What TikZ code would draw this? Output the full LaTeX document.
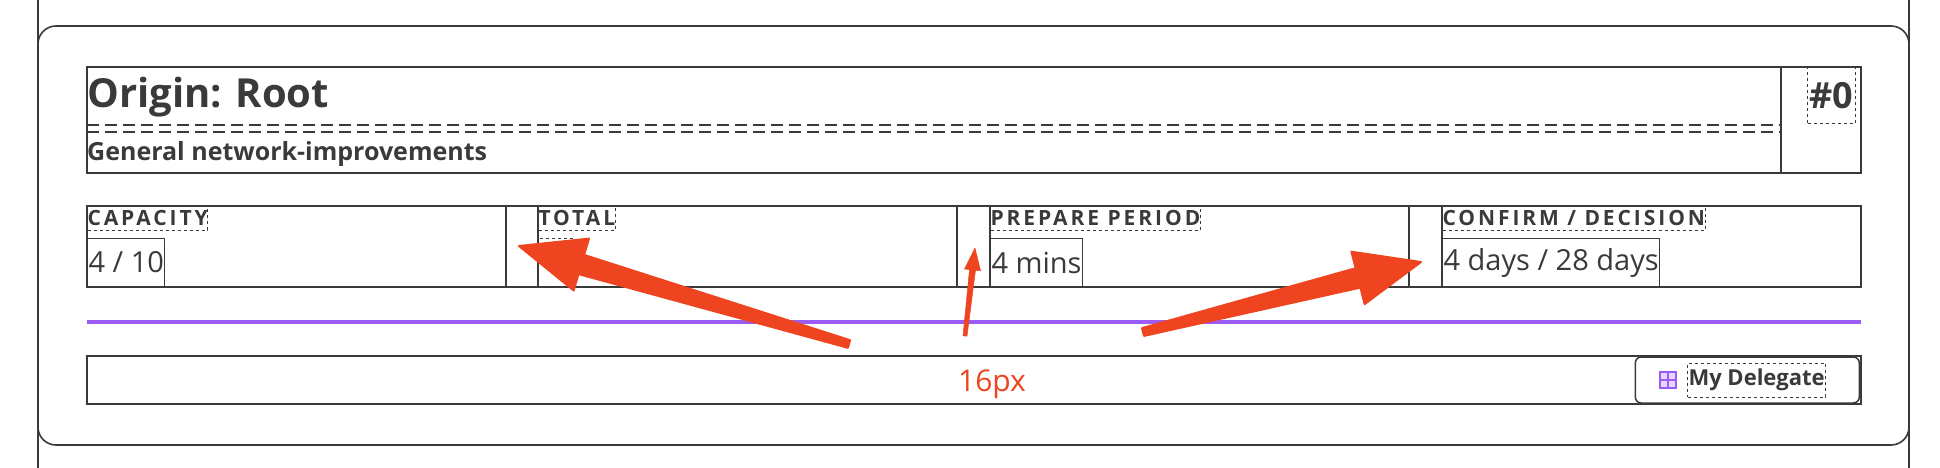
\documentclass[tikz,border=0pt]{standalone}
\usepackage{fontspec}
\setmainfont{Open Sans}
\definecolor{ink}{HTML}{3A3A3A}
\definecolor{violet}{HTML}{9B5CF6}
\definecolor{annot}{HTML}{EE4420}
\tikzset{
  box/.style={draw=ink, line width=1.6pt},
  lbl/.style={anchor=west, inner sep=0pt, text=ink, font=\fontsize{21}{21}\selectfont\bfseries\addfontfeatures{LetterSpace=14}, draw=ink, dashed, line width=1pt, minimum height=24pt},
  val/.style={anchor=south west, inner sep=1pt, text=ink, font=\fontsize{29}{29}\selectfont, draw=ink, line width=1pt, minimum height=48pt},
  wedge/.style={fill=annot, draw=annot, line join=round, line width=2pt}
}
\begin{document}
\begin{tikzpicture}[x=1pt,y=-1pt]
\useasboundingbox (0,0) rectangle (1940,468);
\draw[ink, line width=1.2pt] (38,0) -- (38,468);
\draw[ink, line width=1.2pt] (1909,0) -- (1909,468);
\draw[box] (38,26) [rounded corners=18pt] rectangle (1909,445);
\draw[box] (87,67) rectangle (1861,173);
\draw[ink, line width=1.2pt] (1781,67) -- (1781,173);
\node[anchor=west, inner sep=0pt, text=ink, font=\fontsize{40}{40}\selectfont\bfseries] (title) at (87,97) {Origin: Root};
\draw[ink, line width=1.5pt, dash pattern=on 12pt off 6pt] (87,125) -- (1781,125);
\draw[ink, line width=1.5pt, dash pattern=on 12pt off 6pt] (87,132) -- (1781,132);
\node[anchor=west, inner sep=0pt, text=ink, font=\fontsize{25}{25}\selectfont\bfseries] (sub) at (87,154) {General network-improvements};
\node[anchor=north west, inner sep=2pt, text=ink, font=\fontsize{36}{36}\selectfont\bfseries, draw=ink, dashed, line width=1pt, minimum height=56pt] (num) at (1807,67) {\#0};
\draw[box] (87,206) rectangle (1861,287);
\draw[ink, line width=1.2pt] (506,206) -- (506,287);
\draw[ink, line width=1.2pt] (538,206) -- (538,287);
\draw[ink, line width=1.2pt] (957,206) -- (957,287);
\draw[ink, line width=1.2pt] (990,206) -- (990,287);
\draw[ink, line width=1.2pt] (1409,206) -- (1409,287);
\draw[ink, line width=1.2pt] (1442,206) -- (1442,287);
\node[lbl] (l1) at (87,218) {CAPACITY};
\node[lbl] (l2) at (538,218) {TOTAL};
\node[lbl] (l3) at (990,218) {PREPARE PERIOD};
\node[lbl] (l4) at (1442,218) {CONFIRM / DECISION};
\node[val] (v1) at (87,287) {4 / 10};
\node[val, dashed] (v2) at (538,287) {\phantom{0}\phantom{0}};
\node[val] (v3) at (990,287) {4 mins};
\node[val] (v4) at (1442,287) {4 days / 28 days};
\draw[violet, line width=4pt] (87,322) -- (1861,322);
\draw[box] (87,356) rectangle (1861,404);
\node[draw=ink, line width=1.5pt, rounded corners=6pt, anchor=east, minimum width=224pt, minimum height=46pt] (deleg) at (1860,380) {};
\node[draw=violet, fill=violet!25, line width=1.5pt, minimum size=16pt, inner sep=0pt] (icon) at (1668,380) {};
\draw[violet, line width=1.2pt] (icon.north) -- (icon.south) (icon.west) -- (icon.east);
\node[anchor=west, inner sep=1pt, text=ink, font=\fontsize{22}{22}\selectfont\bfseries, draw=ink, dashed, line width=1pt, minimum height=34pt] (dtext) at (1687,380) {My Delegate};
\node[text=annot, font=\fontsize{30}{30}\selectfont] (px) at (992,384) {16px};
\coordinate (a1e) at (519,246);
\coordinate (a2e) at (975,248);
\coordinate (a3e) at (1421,262);
\fill[wedge] (850.1,340.2) -- (584.1,254.9) -- (589.0,238.6) -- (a1e) -- (573.6,290.4) -- (578.5,274.1) -- (847.9,347.8) -- cycle;
\fill[wedge] (1144.0,335.9) -- (1360.4,287.6) -- (1364.6,304.1) -- (a3e) -- (1351.4,251.7) -- (1355.6,268.2) -- (1142.0,328.1) -- cycle;
\fill[wedge, line width=0.5pt] (967,336.2) -- (975.5,270.2) -- (980.5,270.8) -- (a2e) -- (964.5,269.0) -- (969.5,269.6) -- (963,335.8) -- cycle;
\end{tikzpicture}
\end{document}
